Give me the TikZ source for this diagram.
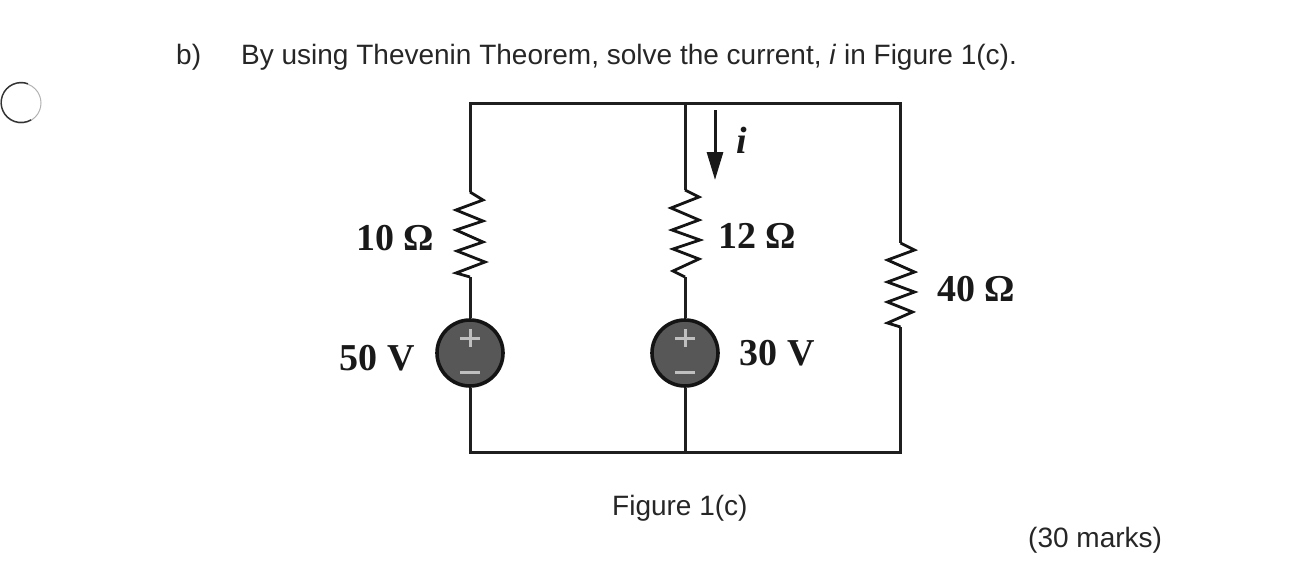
\documentclass[tikz,border=0pt]{standalone}
\usepackage{fontspec}
\setmainfont{Liberation Sans}
\newfontfamily\serifb{Liberation Serif}[Scale=1]
\usetikzlibrary{arrows.meta}
\tikzset{
  wire/.style={line width=3pt,draw=black!88},
  res/.style={line width=2.8pt,draw=black!92,line join=miter},
  src/.style={circle,draw=black!92,line width=3.6pt,fill=black!66,minimum size=66pt,inner sep=0pt},
  val/.style={font=\serifb\bfseries\fontsize{38}{38}\selectfont,text=black!90,inner sep=0pt},
  body/.style={font=\fontsize{28}{28}\selectfont,text=black!85,inner sep=0pt,anchor=base west},
  sym/.style={line width=3pt,draw=black!25}
}
\begin{document}
\begin{tikzpicture}[x=1pt,y=-1pt]
\useasboundingbox (0,0) rectangle (1290,586);
\node[body] (b) at (176,65) {b)};
\node[body] (q) at (241,65) {By using Thevenin Theorem, solve the current, \textit{i} in Figure 1(c).};
\node[body] (f) at (612,515) {Figure 1(c)};
\node[body] (m) at (1028,547) {(30 marks)};
\node[circle,draw=black!30,line width=1pt,minimum size=40pt,inner sep=0pt] (o) at (21,103) {};
\draw[black!80,line width=1.4pt] (o.70) arc[start angle=-70,end angle=-300,radius=20];
% nodes
\coordinate (tl) at (470,103); \coordinate (tm) at (685,103); \coordinate (tr) at (900.5,103);
\coordinate (bl) at (470,452); \coordinate (bm) at (685,452); \coordinate (br) at (900.5,452);
\coordinate (r1t) at (470,192); \coordinate (r1b) at (470,277);
\coordinate (r2t) at (685,190); \coordinate (r2b) at (685,277);
\coordinate (r3t) at (900.5,243); \coordinate (r3b) at (900.5,327);
\node[src] (s1) at (470,353) {};
\node[src] (s2) at (685,353) {};
% wires
\draw[wire,line join=miter] (r1t) -- (tl) -- (tr) -- (r3t);
\draw[wire] (tm) -- (r2t);
\draw[wire,line join=miter] (r3b) -- (br) -- (bl) -- (s1);
\draw[wire] (bm) -- (s2);
\draw[wire] (r1b) -- (s1);
\draw[wire] (r2b) -- (s2);
% resistors
\draw[res] (r1t) -- ++(13,8) -- ++(-27,10) -- ++(27,11) -- ++(-27,9) -- ++(27,12) -- ++(-26,9) -- ++(28,11) -- ++(-29,11) -- (r1b);
\draw[res] (r2t) -- ++(14,7) -- ++(-28,11) -- ++(28,12) -- ++(-27,10) -- ++(28,10) -- ++(-27,9) -- ++(26,10) -- ++(-26,12) -- (r2b);
\draw[res] (r3t) -- ++(14,7) -- ++(-27,10) -- ++(27,12) -- ++(-27,10) -- ++(27,10) -- ++(-27,10) -- ++(25,10) -- ++(-25,11) -- (r3b);
% source symbols
\draw[sym] (s1.center) ++(-10,-15) -- ++(20,0) (s1.center) ++(0,-24) -- ++(0,18);
\draw[sym] (s1.center) ++(-10,19) -- ++(20,0);
\draw[sym] (s2.center) ++(-10,-15) -- ++(20,0) (s2.center) ++(0,-24) -- ++(0,18);
\draw[sym] (s2.center) ++(-10,19) -- ++(20,0);
% current arrow
\coordinate (a1) at (715,110); \coordinate (a2) at (715,180);
\draw[line width=3pt,draw=black!90,-{Triangle[length=28pt,width=16pt]}] (a1) -- (a2);
\node[val,font=\serifb\bfseries\itshape\fontsize{38}{38}\selectfont] (il) at (742,140) {i};
% values
\node[val] (v1) at (395,238) {10 Ω};
\node[val] (v2) at (757,236) {12 Ω};
\node[val] (v3) at (976,289) {40 Ω};
\node[val] (v4) at (377,358) {50 V};
\node[val] (v5) at (777,353) {30 V};
\end{tikzpicture}
\end{document}
